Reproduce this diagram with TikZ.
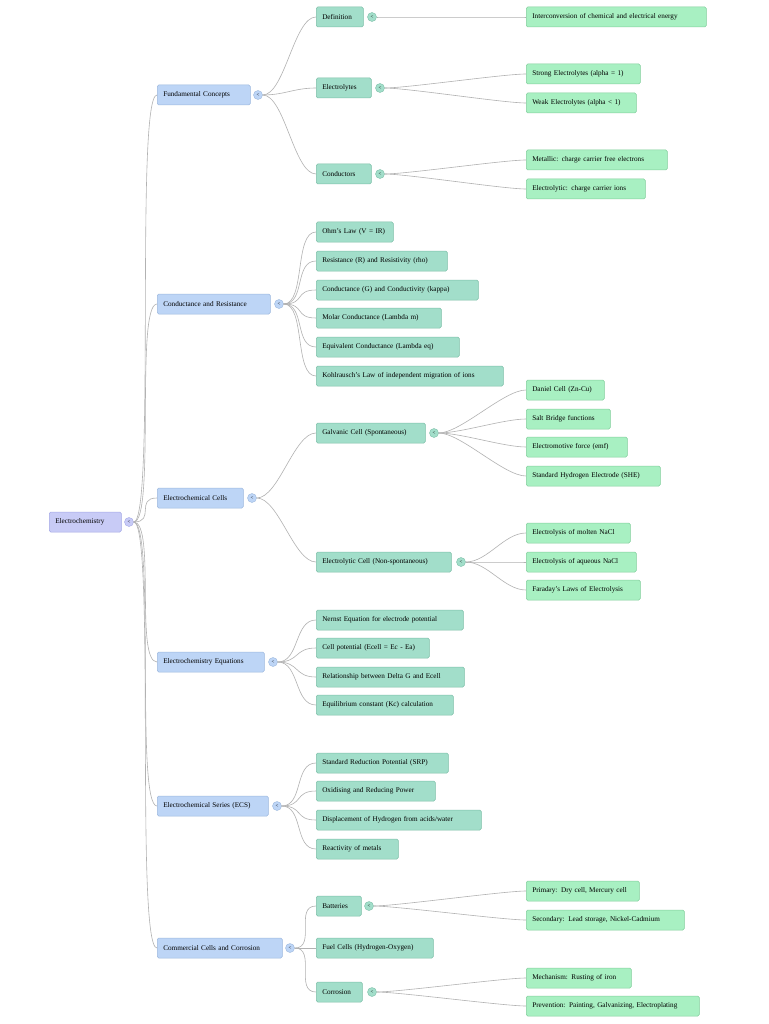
\documentclass[tikz,border=0pt]{standalone}
\usepackage{fontspec}
\setmainfont{Liberation Serif}
\definecolor{rootf}{HTML}{C8CBF6}\definecolor{rootd}{HTML}{A4A8E6}
\definecolor{lonef}{HTML}{BDD5F6}\definecolor{loned}{HTML}{9DB8DE}
\definecolor{ltwof}{HTML}{A2DECA}\definecolor{ltwod}{HTML}{7DBFA8}
\definecolor{lthrf}{HTML}{A8F0C2}\definecolor{lthrd}{HTML}{82CE9C}
\tikzset{
 box/.style={rounded corners=1.5pt, minimum height=20pt, inner xsep=6pt, align=left, font=\fontsize{7.2}{8}\selectfont, line width=0.5pt},
 r/.style={box, fill=rootf, draw=rootd},
 a/.style={box, fill=lonef, draw=loned},
 b/.style={box, fill=ltwof, draw=ltwod},
 c/.style={box, fill=lthrf, draw=lthrd},
 circ/.style={circle, minimum size=9pt, inner sep=0pt, line width=0.4pt, font=\fontsize{5}{5}\selectfont},
 edge/.style={draw=gray!60, line width=0.6pt},
}
\newcommand\bx[6]{\node[#5, text width={(#3)-(#2)-12}, anchor=west] (#1) at (#2,#4) {#6};}
\newcommand\cc[4]{\node[circ, fill=#4f, draw=#4d] (#1) at (#2,#3) {<};}
\newcommand\ed[2]{\draw[edge] (#1.east) .. controls ([xshift=22pt]#1.east) and ([xshift=-22pt]#2.west) .. (#2.west);}
\begin{document}
\begin{tikzpicture}[x=1pt,y=-1pt]
\useasboundingbox[fill=white] (0,0) rectangle (768,1024);
\bx{root}{49}{121}{522}{r}{Electrochemistry}\cc{croot}{129}{522}{root}
% level 1
\bx{fc}{157}{250}{95}{a}{Fundamental Concepts}\cc{cfc}{258}{95}{lone}
\bx{cr}{157}{270}{304}{a}{Conductance and Resistance}\cc{ccr}{279}{304}{lone}
\bx{ec}{157}{243}{498}{a}{Electrochemical Cells}\cc{cec}{252}{498}{lone}
\bx{eq}{157}{264}{662}{a}{Electrochemistry Equations}\cc{ceq}{273}{662}{lone}
\bx{es}{157}{268}{806}{a}{Electrochemical Series (ECS)}\cc{ces}{277}{806}{lone}
\bx{cc}{157}{282}{948}{a}{Commercial Cells and Corrosion}\cc{ccc}{290}{948}{lone}
\foreach \n in {fc,cr,ec,eq,es,cc}{\ed{croot}{\n}}
% level 2
\bx{def}{316}{363}{17}{b}{Definition}\cc{cdef}{372}{17}{ltwo}
\bx{ely}{316}{371}{88}{b}{Electrolytes}\cc{cely}{380}{88}{ltwo}
\bx{con}{316}{371}{174}{b}{Conductors}\cc{ccon}{380}{174}{ltwo}
\foreach \n in {def,ely,con}{\ed{cfc}{\n}}
\bx{ohm}{316}{393}{232}{b}{Ohm's Law (V = IR)}
\bx{res}{316}{447}{261}{b}{Resistance (R) and Resistivity (rho)}
\bx{cnd}{316}{478}{290}{b}{Conductance (G) and Conductivity (kappa)}
\bx{mol}{316}{441}{318}{b}{Molar Conductance (Lambda m)}
\bx{eqv}{316}{459}{347}{b}{Equivalent Conductance (Lambda eq)}
\bx{koh}{316}{503}{376}{b}{Kohlrausch's Law of independent migration of ions}
\foreach \n in {ohm,res,cnd,mol,eqv,koh}{\ed{ccr}{\n}}
\bx{gal}{316}{425}{433}{b}{Galvanic Cell (Spontaneous)}\cc{cgal}{434}{433}{ltwo}
\bx{elc}{316}{451}{562}{b}{Electrolytic Cell (Non-spontaneous)}\cc{celc}{461}{562}{ltwo}
\foreach \n in {gal,elc}{\ed{cec}{\n}}
\bx{ner}{316}{463}{620}{b}{Nernst Equation for electrode potential}
\bx{cpo}{316}{429}{648}{b}{Cell potential (Ecell = Ec - Ea)}
\bx{rel}{316}{464}{677}{b}{Relationship between Delta G and Ecell}
\bx{equ}{316}{453}{705}{b}{Equilibrium constant (Kc) calculation}
\foreach \n in {ner,cpo,rel,equ}{\ed{ceq}{\n}}
\bx{srp}{316}{448}{763}{b}{Standard Reduction Potential (SRP)}
\bx{oxi}{316}{435}{791}{b}{Oxidising and Reducing Power}
\bx{dis}{316}{481}{820}{b}{Displacement of Hydrogen from acids/water}
\bx{rea}{316}{398}{849}{b}{Reactivity of metals}
\foreach \n in {srp,oxi,dis,rea}{\ed{ces}{\n}}
\bx{bat}{316}{361}{906}{b}{Batteries}\cc{cbat}{369}{906}{ltwo}
\bx{fue}{316}{433}{948}{b}{Fuel Cells (Hydrogen-Oxygen)}
\bx{cor}{316}{362}{992}{b}{Corrosion}\cc{ccor}{372}{992}{ltwo}
\foreach \n in {bat,fue,cor}{\ed{ccc}{\n}}
% level 3
\bx{int}{526}{706}{17}{c}{Interconversion of chemical and electrical energy}\ed{cdef}{int}
\bx{str}{526}{640}{74}{c}{Strong Electrolytes (alpha = 1)}\ed{cely}{str}
\bx{wea}{526}{636}{103}{c}{Weak Electrolytes (alpha < 1)}\ed{cely}{wea}
\bx{met}{526}{667}{160}{c}{Metallic: charge carrier free electrons}\ed{ccon}{met}
\bx{ecl}{526}{645}{189}{c}{Electrolytic: charge carrier ions}\ed{ccon}{ecl}
\bx{dan}{526}{604}{390}{c}{Daniel Cell (Zn-Cu)}
\bx{sal}{526}{610}{419}{c}{Salt Bridge functions}
\bx{emf}{526}{627}{447}{c}{Electromotive force (emf)}
\bx{she}{526}{660}{476}{c}{Standard Hydrogen Electrode (SHE)}
\foreach \n in {dan,sal,emf,she}{\ed{cgal}{\n}}
\bx{mlt}{526}{630}{533}{c}{Electrolysis of molten NaCl}
\bx{aqu}{526}{636}{562}{c}{Electrolysis of aqueous NaCl}
\bx{far}{526}{640}{590}{c}{Faraday's Laws of Electrolysis}
\foreach \n in {mlt,aqu,far}{\ed{celc}{\n}}
\bx{pri}{526}{639}{891}{c}{Primary: Dry cell, Mercury cell}\ed{cbat}{pri}
\bx{sec}{526}{684}{920}{c}{Secondary: Lead storage, Nickel-Cadmium}\ed{cbat}{sec}
\bx{mec}{526}{631}{978}{c}{Mechanism: Rusting of iron}\ed{ccor}{mec}
\bx{pre}{526}{699}{1006}{c}{Prevention: Painting, Galvanizing, Electroplating}\ed{ccor}{pre}
\end{tikzpicture}
\end{document}
